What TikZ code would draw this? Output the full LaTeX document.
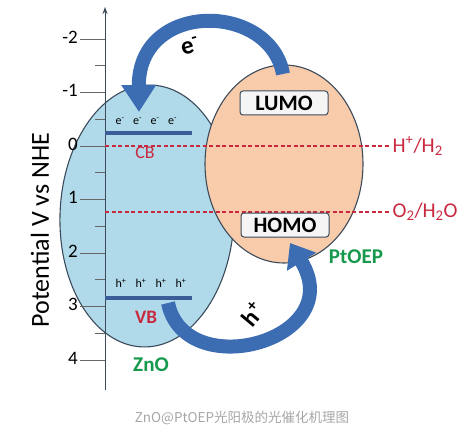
\documentclass[tikz,border=0pt]{standalone}
\usepackage{fontspec}
\setmainfont{Carlito}
\newfontfamily\cjk{Noto Sans CJK SC}
\usetikzlibrary{shapes.geometric,arrows.meta}
\definecolor{znoblue}{HTML}{B0DAE9}
\definecolor{ptpeach}{HTML}{F8CCAA}
\definecolor{rimgray}{HTML}{3C4B5C}
\definecolor{bandblue}{HTML}{3C6DB3}
\definecolor{barblue}{HTML}{3B5E98}
\definecolor{levelred}{HTML}{C9293F}
\definecolor{labelgreen}{HTML}{16994D}
\tikzstyle{phase}=[ellipse, draw=rimgray, line width=1.1pt, inner sep=0pt]
\tikzstyle{axtick}=[draw=gray!80!black, line width=0.8pt]
\tikzstyle{level}=[levelred, dash pattern=on 4pt off 2.5pt, line width=1.3pt]
\tikzstyle{bandbar}=[barblue, line width=4pt]
\tikzstyle{orbital}=[draw=rimgray, fill=gray!8, rounded corners=3pt, line width=1pt, minimum width=88pt, minimum height=24pt, inner sep=0pt, font=\fontsize{22}{24}\selectfont\bfseries]
\newcommand{\orbital}{\node[orbital]}
\tikzstyle{carrier}=[inner sep=0pt, font=\fontsize{12}{14}\selectfont]
\newcommand{\carrier}{\node[carrier]}
\tikzstyle{transfer}=[bandblue, line width=14pt]
\tikzstyle{tag}=[inner sep=0pt, font=\fontsize{21}{24}\selectfont\bfseries]

\begin{document}
\begin{tikzpicture}[x=1pt,y=-1pt]
\useasboundingbox (0,0) rectangle (474,433);
\node[phase, fill=znoblue, minimum width=174pt, minimum height=262pt, rotate=-2] (zno) at (147,216) {};
\coordinate (axbase) at (105,390);
\coordinate (axtop) at (105,7);
\draw[rimgray, line width=1pt, -{Stealth[length=7pt,width=5pt]}] (axbase) -- (axtop);
\foreach \v in {-2,...,4}{
	\draw[axtick] (80,{146+53.5*\v}) -- (105,{146+53.5*\v});
	\node[anchor=east, inner sep=0pt, font=\fontsize{19}{22}\selectfont] (v\v) at (78,{144+53.5*\v}) {\v};
	}
\foreach \v in {-1.5,-0.5,...,3.5}
	\draw[axtick] (95,{146+53.5*\v}) -- (105,{146+53.5*\v});
\node[rotate=90, font=\fontsize{26}{30}\selectfont] (pot) at (40,230) {Potential V vs NHE};
\node[phase, fill=ptpeach, minimum width=158pt, minimum height=198pt] (pt) at (284,164) {};
\coordinate (lvH) at (105,146);
\coordinate (lvO) at (105,212);
\draw[level] (lvH) -- ++(285,0) node[right, inner sep=2pt, font=\fontsize{21}{24}\selectfont] (hh) {H\textsuperscript{+}/H\textsubscript{2}};
\draw[level] (lvO) -- ++(285,0) node[right, inner sep=2pt, font=\fontsize{21}{24}\selectfont] (oh) {O\textsubscript{2}/H\textsubscript{2}O};
\coordinate (cb0) at (105,133);
\coordinate (cb1) at (192,133);
\coordinate (vb0) at (105,298);
\coordinate (vb1) at (192,298);
\draw[bandbar] (cb0) -- (cb1) (vb0) -- (vb1);
\foreach \i in {0,...,3}{
	\carrier (e\i) at (120+17.5*\i,121) {e\textsuperscript{-}};
	\carrier (h\i) at (121+20*\i,283) {h\textsuperscript{+}};
	}
\node[text=levelred, inner sep=0pt, font=\fontsize{18}{20}\selectfont] (cb) at (145,153) {CB};
\node[tag, text=levelred, font=\fontsize{19}{22}\selectfont\bfseries] (vb) at (146,317) {VB};
\node[tag, text=labelgreen] (zn) at (151,365) {ZnO};
\node[tag, text=labelgreen] (pto) at (356,257) {PtOEP};
\orbital (lumo) at (284,103) {LUMO};
\orbital (homo) at (285,225) {HOMO};
\coordinate (eS) at (283,74);
\coordinate (eT) at (139,112);
\coordinate (hS) at (168,303);
\coordinate (hT) at (290,243);
\draw[transfer, -{Triangle[length=27pt,width=33pt]}] (eS) .. controls (270,2) and (138,0) .. (eT);
\draw[transfer, -{Triangle[length=22pt,width=33pt]}] (hS) .. controls (185,385) and (350,340) .. (hT);
\node[tag, rotate=15, font=\fontsize{25}{28}\selectfont\bfseries] (el) at (190,46) {e\textsuperscript{-}};
\node[tag, rotate=50, font=\fontsize{24}{28}\selectfont\bfseries] (ho) at (252,314) {h\textsuperscript{+}};
\node[font=\cjk\fontsize{13.5}{16}\selectfont, text=gray!70] (cap) at (242,418) {ZnO@PtOEP光阳极的光催化机理图};
\end{tikzpicture}
\end{document}
